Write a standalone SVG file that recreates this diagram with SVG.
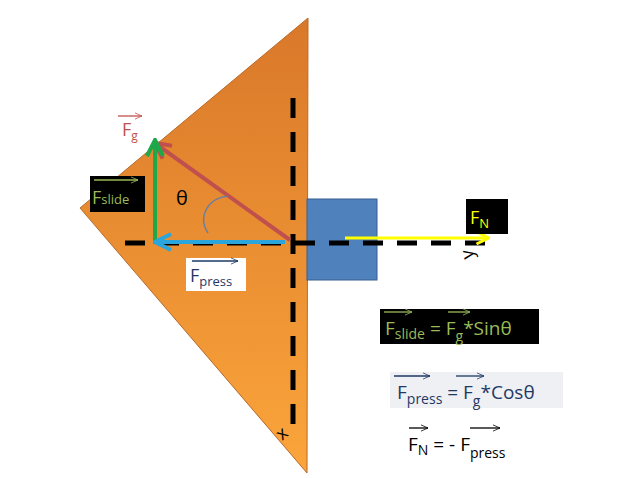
<svg xmlns="http://www.w3.org/2000/svg" width="638" height="478" viewBox="0 0 638 478">
<style>
text{font-family:"Open Sans","Liberation Sans",sans-serif}
.dash{stroke:#000;stroke-width:5;stroke-dasharray:20 14;fill:none}
.vec{stroke-width:1.3;fill:none}
</style>
<defs>
<linearGradient id="og" x1="0" y1="0" x2="0" y2="1">
<stop offset="0" stop-color="#d9782a"/><stop offset="1" stop-color="#fba53b"/>
</linearGradient>
<marker id="ar" viewBox="0 0 10 10" refX="8" refY="5" markerWidth="5" markerHeight="5" orient="auto"><path d="M1 1L9 5L1 9" fill="none" stroke="context-stroke" stroke-width="2"/></marker>
<marker id="sm" viewBox="0 0 10 10" refX="9" refY="5" markerWidth="6" markerHeight="6" orient="auto"><path d="M0 1L9 5L0 9" fill="none" stroke="context-stroke" stroke-width="1"/></marker>
</defs>
<g id="wedge"><polygon points="308,18 80,208 307,473" fill="url(#og)" stroke="#b86a2a" stroke-width="1"/></g>
<g id="block"><rect x="307" y="199" width="70" height="81" fill="#4f81bd" stroke="#3a5f8f"/></g>
<g id="axes">
<line class="dash" x1="293" y1="98" x2="293" y2="425"/>
<line class="dash" x1="125" y1="243" x2="490" y2="243" stroke-dasharray="18 14"/>
<text x="282" y="441" font-size="18" transform="rotate(-40 282 441)" font-family="Liberation Serif">x</text>
<text x="474" y="258" font-size="18" transform="rotate(-100 474 258)" font-family="Liberation Serif">y</text>
</g>
<g id="connectors">
<line x1="290" y1="240" x2="156" y2="144" stroke="#c0504d" stroke-width="4" marker-end="url(#ar)"/>
<line x1="155" y1="244" x2="155" y2="142" stroke="#1ea84a" stroke-width="4" marker-end="url(#ar)"/>
<line x1="285" y1="242" x2="157" y2="242" stroke="#2aa6dc" stroke-width="4" marker-end="url(#ar)"/>
<line x1="345" y1="238" x2="487" y2="238" stroke="#ffff00" stroke-width="3" marker-end="url(#ar)"/>
<path d="M228,196 A27,24 0 0 0 208,233" fill="none" stroke="#6a7fa0" stroke-width="1.5"/>
</g>
<g id="theta"><text x="176" y="205" font-size="20" font-family="DejaVu Serif">θ</text></g>
<g id="fg"><line class="vec" x1="118" y1="116" x2="142" y2="116" stroke="#c0504d" marker-end="url(#sm)"/><text x="122" y="136" font-size="18" fill="#c0504d">F<tspan font-size="12" dy="4">g</tspan></text></g>
<g id="fslide"><rect x="90" y="176" width="55" height="36" fill="#000"/><line class="vec" x1="94" y1="180" x2="138" y2="180" stroke="#9bbb59" marker-end="url(#sm)"/><text x="92" y="204" font-size="18" fill="#9bbb59">F<tspan font-size="13" dy="0">slide</tspan></text></g>
<g id="fpress"><rect x="186" y="258" width="60" height="33" fill="#fff"/><line class="vec" x1="192" y1="261" x2="238" y2="261" stroke="#1f3864" marker-end="url(#sm)"/><text x="190" y="282" font-size="18" fill="#1f3864">F<tspan font-size="13" dy="4">press</tspan></text></g>
<g id="fn"><rect x="466" y="199" width="42" height="35" fill="#000"/><text x="470" y="224" font-size="18" fill="#ffff00">F<tspan font-size="13" dy="4">N</tspan></text></g>
<g id="eq1"><rect x="380" y="309" width="159" height="35" fill="#000"/>
<line class="vec" x1="384" y1="312" x2="412" y2="312" stroke="#9bbb59" marker-end="url(#sm)"/>
<line class="vec" x1="448" y1="312" x2="470" y2="312" stroke="#9bbb59" marker-end="url(#sm)"/>
<text x="385" y="335" font-size="19" fill="#9bbb59">F<tspan font-size="14" dy="4">slide</tspan><tspan dy="-4"> = F</tspan><tspan font-size="14" dy="6">g</tspan><tspan dy="-6">*Sinθ</tspan></text></g>
<g id="eq2"><rect x="390" y="372" width="173" height="36" fill="#eef0f4"/>
<line class="vec" x1="394" y1="376" x2="430" y2="376" stroke="#1f3864" marker-end="url(#sm)"/>
<line class="vec" x1="456" y1="376" x2="484" y2="376" stroke="#1f3864" marker-end="url(#sm)"/>
<text x="397" y="399" font-size="19" fill="#1f3864">F<tspan font-size="14" dy="5">press</tspan><tspan dy="-5"> = F</tspan><tspan font-size="14" dy="7">g</tspan><tspan dy="-7">*Cosθ</tspan></text></g>
<g id="eq3">
<line class="vec" x1="409" y1="428" x2="428" y2="428" stroke="#000" marker-end="url(#sm)"/>
<line class="vec" x1="470" y1="428" x2="500" y2="428" stroke="#000" marker-end="url(#sm)"/>
<text x="408" y="451" font-size="19" fill="#000">F<tspan font-size="14" dy="4">N</tspan><tspan dy="-4"> = - F</tspan><tspan font-size="14" dy="7">press</tspan></text></g>
</svg>
